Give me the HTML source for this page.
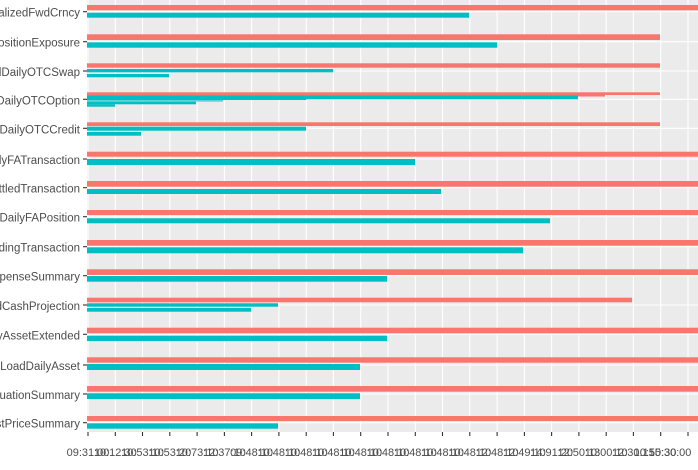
<!DOCTYPE html>
<html><head><meta charset="utf-8"><style>
html,body{margin:0;padding:0;background:#fff;width:698px;height:470px;overflow:hidden}
svg{display:block;font-family:"Liberation Sans",Arial,sans-serif}
</style></head><body>
<svg width="698" height="470" viewBox="0 0 698 470" xmlns="http://www.w3.org/2000/svg">
<rect x="0" y="0" width="698" height="470" fill="#fff"/>
<rect x="87" y="0" width="611" height="432" fill="#ebebeb"/>
<g stroke="#fff" stroke-width="1.1">
<line x1="88" y1="0" x2="88" y2="432"/><line x1="115.3" y1="0" x2="115.3" y2="432"/><line x1="142.5" y1="0" x2="142.5" y2="432"/><line x1="169.8" y1="0" x2="169.8" y2="432"/><line x1="197.1" y1="0" x2="197.1" y2="432"/><line x1="224.4" y1="0" x2="224.4" y2="432"/><line x1="251.6" y1="0" x2="251.6" y2="432"/><line x1="278.9" y1="0" x2="278.9" y2="432"/><line x1="306.2" y1="0" x2="306.2" y2="432"/><line x1="333.4" y1="0" x2="333.4" y2="432"/><line x1="360.7" y1="0" x2="360.7" y2="432"/><line x1="388" y1="0" x2="388" y2="432"/><line x1="415.3" y1="0" x2="415.3" y2="432"/><line x1="442.5" y1="0" x2="442.5" y2="432"/><line x1="469.8" y1="0" x2="469.8" y2="432"/><line x1="497.1" y1="0" x2="497.1" y2="432"/><line x1="524.4" y1="0" x2="524.4" y2="432"/><line x1="551.6" y1="0" x2="551.6" y2="432"/><line x1="578.9" y1="0" x2="578.9" y2="432"/><line x1="606.2" y1="0" x2="606.2" y2="432"/><line x1="633.4" y1="0" x2="633.4" y2="432"/><line x1="660.7" y1="0" x2="660.7" y2="432"/><line x1="688" y1="0" x2="688" y2="432"/>
<line x1="87" y1="11.7" x2="698" y2="11.7"/><line x1="87" y1="41.7" x2="698" y2="41.7"/><line x1="87" y1="71" x2="698" y2="71"/><line x1="87" y1="99.3" x2="698" y2="99.3"/><line x1="87" y1="128.3" x2="698" y2="128.3"/><line x1="87" y1="159" x2="698" y2="159"/><line x1="87" y1="187.7" x2="698" y2="187.7"/><line x1="87" y1="216.7" x2="698" y2="216.7"/><line x1="87" y1="246.7" x2="698" y2="246.7"/><line x1="87" y1="275.7" x2="698" y2="275.7"/><line x1="87" y1="305" x2="698" y2="305"/><line x1="87" y1="334.3" x2="698" y2="334.3"/><line x1="87" y1="365" x2="698" y2="365"/><line x1="87" y1="394" x2="698" y2="394"/><line x1="87" y1="422.7" x2="698" y2="422.7"/>
</g>
<g fill="#f8766d">
<rect x="87" y="5" width="611" height="5.3"/>
<rect x="87" y="34.3" width="573" height="5.7"/>
<rect x="87" y="63.3" width="573" height="4.4"/>
<rect x="87" y="92.3" width="573" height="2.7"/>
<rect x="87" y="94" width="518" height="2.5"/>
<rect x="87" y="122.3" width="573" height="3.7"/>
<rect x="87" y="151.7" width="611" height="5"/>
<rect x="87" y="181" width="611" height="5.7"/>
<rect x="87" y="210" width="611" height="5"/>
<rect x="87" y="240" width="611" height="5.7"/>
<rect x="87" y="269.3" width="611" height="5.7"/>
<rect x="87" y="297.7" width="545" height="4.6"/>
<rect x="87" y="327.7" width="611" height="5.6"/>
<rect x="87" y="357.3" width="611" height="5.4"/>
<rect x="87" y="386" width="611" height="5.7"/>
<rect x="87" y="416" width="611" height="5"/>
</g>
<g fill="#00bfc4">
<rect x="87" y="12.7" width="382" height="5"/>
<rect x="87" y="42.3" width="410" height="5.4"/>
<rect x="87" y="69" width="246" height="3.3"/>
<rect x="87" y="74" width="82" height="3.3"/>
<rect x="87" y="95.5" width="491" height="3.8"/>
<rect x="87" y="97.5" width="219" height="2.5"/>
<rect x="87" y="100" width="136" height="1.7" opacity="0.6"/>
<rect x="87" y="101.7" width="109" height="2.6"/>
<rect x="87" y="104.3" width="28" height="2.4"/>
<rect x="87" y="126.7" width="219" height="4"/>
<rect x="87" y="132" width="54" height="3.7"/>
<rect x="87" y="159" width="328" height="6"/>
<rect x="87" y="189" width="354" height="5"/>
<rect x="87" y="218.3" width="463" height="5"/>
<rect x="87" y="247.3" width="436" height="6"/>
<rect x="87" y="276" width="300" height="5.7"/>
<rect x="87" y="303.3" width="191" height="3.4"/>
<rect x="87" y="308" width="164" height="3.7"/>
<rect x="87" y="335.7" width="300" height="5.3"/>
<rect x="87" y="364" width="273" height="6"/>
<rect x="87" y="393.3" width="273" height="5.7"/>
<rect x="87" y="423.3" width="191" height="5.4"/>
</g>
<g stroke="#333" stroke-width="1.1">
<line x1="83" y1="11.7" x2="87" y2="11.7"/><line x1="83" y1="41.7" x2="87" y2="41.7"/><line x1="83" y1="71" x2="87" y2="71"/><line x1="83" y1="99.3" x2="87" y2="99.3"/><line x1="83" y1="128.3" x2="87" y2="128.3"/><line x1="83" y1="159" x2="87" y2="159"/><line x1="83" y1="187.7" x2="87" y2="187.7"/><line x1="83" y1="216.7" x2="87" y2="216.7"/><line x1="83" y1="246.7" x2="87" y2="246.7"/><line x1="83" y1="275.7" x2="87" y2="275.7"/><line x1="83" y1="305" x2="87" y2="305"/><line x1="83" y1="334.3" x2="87" y2="334.3"/><line x1="83" y1="365" x2="87" y2="365"/><line x1="83" y1="394" x2="87" y2="394"/><line x1="83" y1="422.7" x2="87" y2="422.7"/>
<line x1="88" y1="432" x2="88" y2="436"/><line x1="115.3" y1="432" x2="115.3" y2="436"/><line x1="142.5" y1="432" x2="142.5" y2="436"/><line x1="169.8" y1="432" x2="169.8" y2="436"/><line x1="197.1" y1="432" x2="197.1" y2="436"/><line x1="224.4" y1="432" x2="224.4" y2="436"/><line x1="251.6" y1="432" x2="251.6" y2="436"/><line x1="278.9" y1="432" x2="278.9" y2="436"/><line x1="306.2" y1="432" x2="306.2" y2="436"/><line x1="333.4" y1="432" x2="333.4" y2="436"/><line x1="360.7" y1="432" x2="360.7" y2="436"/><line x1="388" y1="432" x2="388" y2="436"/><line x1="415.3" y1="432" x2="415.3" y2="436"/><line x1="442.5" y1="432" x2="442.5" y2="436"/><line x1="469.8" y1="432" x2="469.8" y2="436"/><line x1="497.1" y1="432" x2="497.1" y2="436"/><line x1="524.4" y1="432" x2="524.4" y2="436"/><line x1="551.6" y1="432" x2="551.6" y2="436"/><line x1="578.9" y1="432" x2="578.9" y2="436"/><line x1="606.2" y1="432" x2="606.2" y2="436"/><line x1="633.4" y1="432" x2="633.4" y2="436"/><line x1="660.7" y1="432" x2="660.7" y2="436"/><line x1="688" y1="432" x2="688" y2="436"/>
</g>
<g fill="#4d4d4d" font-size="11.5" text-anchor="end">
<text x="80" y="16.7">LoadUnrealizedFwdCrncy</text>
<text x="80" y="46.7">LoadPositionExposure</text>
<text x="80" y="76">LoadDailyOTCSwap</text>
<text x="80" y="104.3">LoadDailyOTCOption</text>
<text x="80" y="133.3">LoadDailyOTCCredit</text>
<text x="80" y="164">LoadDailyFATransaction</text>
<text x="80" y="192.7">LoadSettledTransaction</text>
<text x="80" y="221.7">LoadDailyFAPosition</text>
<text x="80" y="251.7">LoadPendingTransaction</text>
<text x="80" y="280.7">LoadExpenseSummary</text>
<text x="80" y="310">LoadCashProjection</text>
<text x="80" y="339.3">LoadDailyAssetExtended</text>
<text x="80" y="370">LoadDailyAsset</text>
<text x="80" y="399">LoadValuationSummary</text>
<text x="80" y="427.7">LoadLastPriceSummary</text>
</g>
<g fill="#4d4d4d" font-size="11" text-anchor="middle">
<text x="88" y="456">09:31:00</text><text x="115.3" y="456">10:12:30</text><text x="142.5" y="456">10:53:10</text><text x="169.8" y="456">10:53:20</text><text x="197.1" y="456">10:73:10</text><text x="224.4" y="456">12:37:10</text><text x="251.6" y="456">09:48:10</text><text x="278.9" y="456">10:48:10</text><text x="306.2" y="456">10:48:10</text><text x="333.4" y="456">10:48:10</text><text x="360.7" y="456">10:48:10</text><text x="388" y="456">10:48:10</text><text x="415.3" y="456">10:48:10</text><text x="442.5" y="456">10:48:10</text><text x="469.8" y="456">10:48:10</text><text x="497.1" y="456">12:48:10</text><text x="524.4" y="456">12:49:10</text><text x="551.6" y="456">14:91:20</text><text x="578.9" y="456">12:50:13</text><text x="606.2" y="456">10:00:10</text><text x="633.4" y="456">12:30:15</text><text x="655" y="456">10:50:30</text><text x="670" y="456">15:30:00</text>
</g>
</svg>
</body></html>
